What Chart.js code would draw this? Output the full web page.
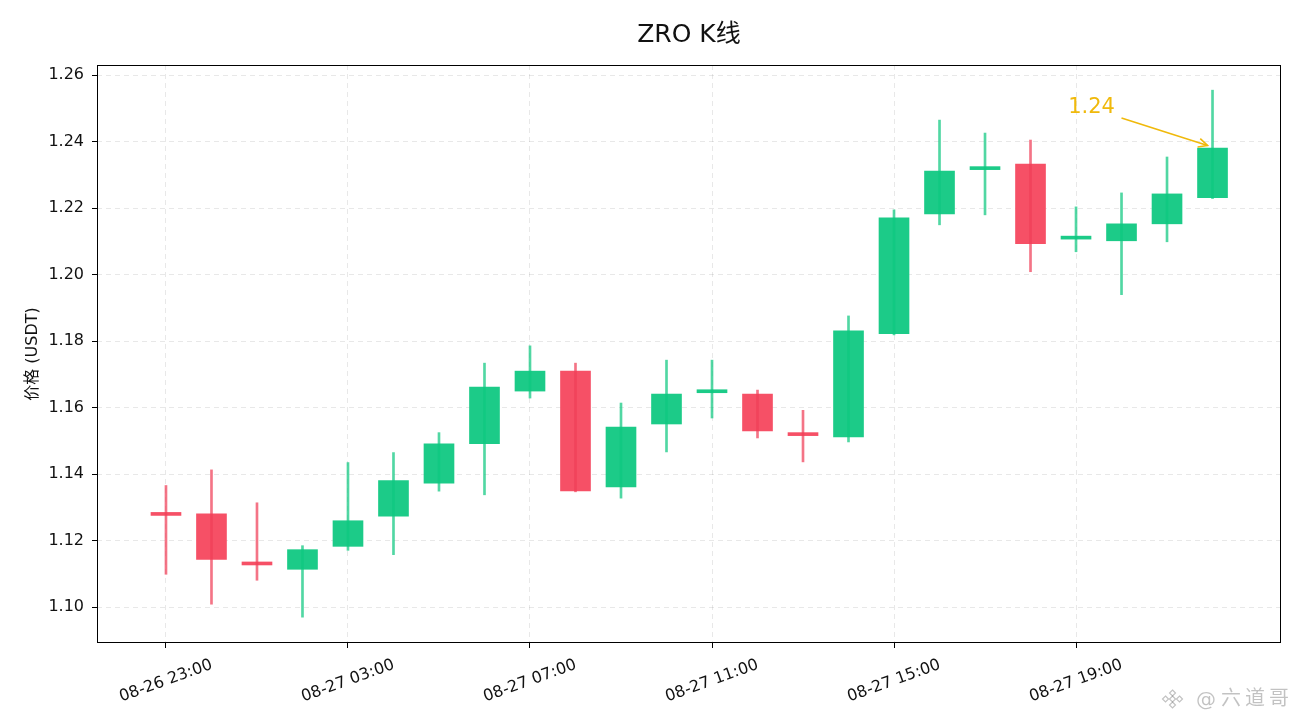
<!DOCTYPE html>
<html><head><meta charset="utf-8">
<script src="https://cdn.jsdelivr.net/npm/chart.js@4.4.1/dist/chart.umd.min.js"></script>
<style>html,body{margin:0;padding:0;background:#fff;overflow:hidden}</style>
</head><body>
<canvas id="c" width="1300" height="728" style="width:1300px;height:728px;display:block"></canvas>
<script>
const times = ['08-26 23:00','08-27 00:00','08-27 01:00','08-27 02:00','08-27 03:00','08-27 04:00',
  '08-27 05:00','08-27 06:00','08-27 07:00','08-27 08:00','08-27 09:00','08-27 10:00',
  '08-27 11:00','08-27 12:00','08-27 13:00','08-27 14:00','08-27 15:00','08-27 16:00',
  '08-27 17:00','08-27 18:00','08-27 19:00','08-27 20:00','08-27 21:00','08-27 22:00'];
const opens  = [1.1277,1.1281,1.1129,1.1114,1.1183,1.1274,1.1373,1.1492,1.1650,1.1710,1.1362,1.1551,
                1.1645,1.1641,1.1518,1.1512,1.1823,1.2183,1.2316,1.2333,1.2107,1.2102,1.2153,1.2232];
const highs  = [1.1366,1.1413,1.1314,1.1185,1.1435,1.1465,1.1525,1.1734,1.1786,1.1734,1.1614,1.1743,
                1.1743,1.1653,1.1592,1.1876,1.2195,1.2465,1.2426,1.2405,1.2204,1.2246,1.2354,1.2555];
const lows   = [1.1099,1.1009,1.1081,1.0970,1.1171,1.1158,1.1349,1.1338,1.1629,1.1347,1.1328,1.1467,
                1.1569,1.1509,1.1437,1.1497,1.1819,1.2150,1.2180,1.2009,1.2069,1.1940,1.2099,1.2229];
const closes = [1.1276,1.1144,1.1127,1.1173,1.1260,1.1381,1.1491,1.1662,1.1710,1.1350,1.1542,1.1641,
                1.1647,1.1530,1.1516,1.1831,1.2171,1.2312,1.2318,1.2093,1.2109,1.2153,1.2243,1.2381];
const xTickIndex = [0,4,8,12,16,20];
const titleText = 'ZRO K线';
const yAxisTitle = '价格 (USDT)';
const watermarkAt = '@';
const watermarkName = '六道哥';

const UP = '#1ccb88', DOWN = '#f65066';
const UP_W = 'rgba(14,200,128,0.72)', DOWN_W = 'rgba(240,62,88,0.72)';
const FONT = "'DejaVu Sans', 'Noto Sans CJK SC', sans-serif";
const isUp = i => closes[i] >= opens[i];

const deco = {
  id: 'deco',
  afterDraw(chart) {
    const ctx = chart.ctx, a = chart.chartArea;
    const xs = chart.scales.x, ys = chart.scales.y;
    ctx.save();
    // frame
    ctx.strokeStyle = '#000'; ctx.lineWidth = 1;
    ctx.strokeRect(a.left + 0.5, a.top + 0.5, a.right - a.left - 1, a.bottom - a.top - 1);
    // title
    ctx.fillStyle = '#111'; ctx.font = '25px ' + FONT;
    ctx.textAlign = 'center'; ctx.textBaseline = 'middle';
    ctx.fillText(titleText, (a.left + a.right) / 2, 35);
    // y title
    ctx.save();
    ctx.translate(33, (a.top + a.bottom) / 2);
    ctx.rotate(-Math.PI / 2);
    ctx.font = '16px ' + FONT;
    ctx.fillText(yAxisTitle, 0, 0);
    ctx.restore();
    // x tick labels
    ctx.font = '16px ' + FONT;
    xs.ticks.forEach(t => {
      const px = xs.getPixelForValue(t.value);
      ctx.save();
      ctx.translate(px, 681);
      ctx.rotate(-20 * Math.PI / 180);
      ctx.fillStyle = '#111';
      ctx.fillText(times[t.value], 0, 0);
      ctx.restore();
    });
    // annotation
    const li = closes.length - 1;
    const tx = xs.getPixelForValue(li), ty = ys.getPixelForValue(closes[li]);
    const gold = '#f0b90b';
    ctx.fillStyle = gold; ctx.strokeStyle = gold;
    ctx.font = '21px ' + FONT;
    ctx.fillText(closes[li].toFixed(2), tx - 121, ty - 40);
    const sx = tx - 91, sy = ty - 30, ex = tx - 5, ey = ty - 2.5;
    ctx.lineWidth = 1.6;
    ctx.beginPath(); ctx.moveTo(sx, sy); ctx.lineTo(ex, ey); ctx.stroke();
    const ang = Math.atan2(ey - sy, ex - sx);
    ctx.beginPath();
    ctx.moveTo(ex - 10 * Math.cos(ang - 0.45), ey - 10 * Math.sin(ang - 0.45));
    ctx.lineTo(ex, ey);
    ctx.lineTo(ex - 10 * Math.cos(ang + 0.45), ey - 10 * Math.sin(ang + 0.45));
    ctx.stroke();
    // watermark
    const wc = 'rgba(0,0,0,0.24)';
    ctx.strokeStyle = wc; ctx.lineWidth = 1.2;
    const cx = 1172.5, cy = 699;
    const dia = (x, y, r) => { ctx.beginPath(); ctx.moveTo(x, y - r); ctx.lineTo(x + r, y); ctx.lineTo(x, y + r); ctx.lineTo(x - r, y); ctx.closePath(); ctx.stroke(); };
    dia(cx, cy, 3); dia(cx, cy - 6, 3); dia(cx, cy + 6, 3); dia(cx - 7, cy, 3); dia(cx + 7, cy, 3);
    ctx.fillStyle = wc; ctx.textAlign = 'left';
    ctx.font = '20px ' + FONT;
    ctx.fillText(watermarkAt, 1196, 701);
    ctx.letterSpacing = '4px';
    ctx.font = '20px ' + FONT;
    ctx.fillText(watermarkName, 1221, 700);
    ctx.restore();
  }
};

new Chart(document.getElementById('c'), {
  type: 'bar',
  data: {
    datasets: [
      {
        label: 'wick',
        data: times.map((t, i) => ({ x: i, y: [lows[i], highs[i]] })),
        backgroundColor: times.map((t, i) => isUp(i) ? UP_W : DOWN_W),
        barThickness: 2,
        borderWidth: 0
      },
      {
        label: 'body',
        data: times.map((t, i) => ({ x: i, y: [opens[i], closes[i]] })),
        backgroundColor: times.map((t, i) => isUp(i) ? UP : DOWN),
        barThickness: 30,
        minBarLength: 3,
        borderWidth: 0
      }
    ]
  },
  options: {
    responsive: false,
    animation: false,
    devicePixelRatio: 1,
    layout: { padding: { top: 65, right: 19, left: 0, bottom: 0 } },
    datasets: { bar: { grouped: false } },
    plugins: { legend: { display: false }, tooltip: { enabled: false }, title: { display: false } },
    scales: {
      x: {
        type: 'linear', offset: false,
        min: -1.516, max: 24.505,
        afterBuildTicks: s => { s.ticks = xTickIndex.map(v => ({ value: v })); },
        afterFit: s => { s.height = 85; },
        ticks: { display: false, includeBounds: false },
        grid: { offset: false, color: 'rgba(0,0,0,0.09)', tickColor: '#000', tickLength: 5, tickBorderDash: [] },
        border: { display: false, dash: [5, 4] }
      },
      y: {
        type: 'linear', beginAtZero: false,
        min: 1.08923, max: 1.26307,
        afterFit: s => { s.width = 97; },
        ticks: { stepSize: 0.02, includeBounds: false, padding: 8, color: '#111',
                 font: { family: FONT, size: 16 }, callback: v => Number(v).toFixed(2) },
        grid: { color: 'rgba(0,0,0,0.09)', tickColor: '#000', tickLength: 5, tickBorderDash: [] },
        border: { display: false, dash: [5, 4] }
      }
    }
  },
  plugins: [deco]
});
</script>
</body></html>
